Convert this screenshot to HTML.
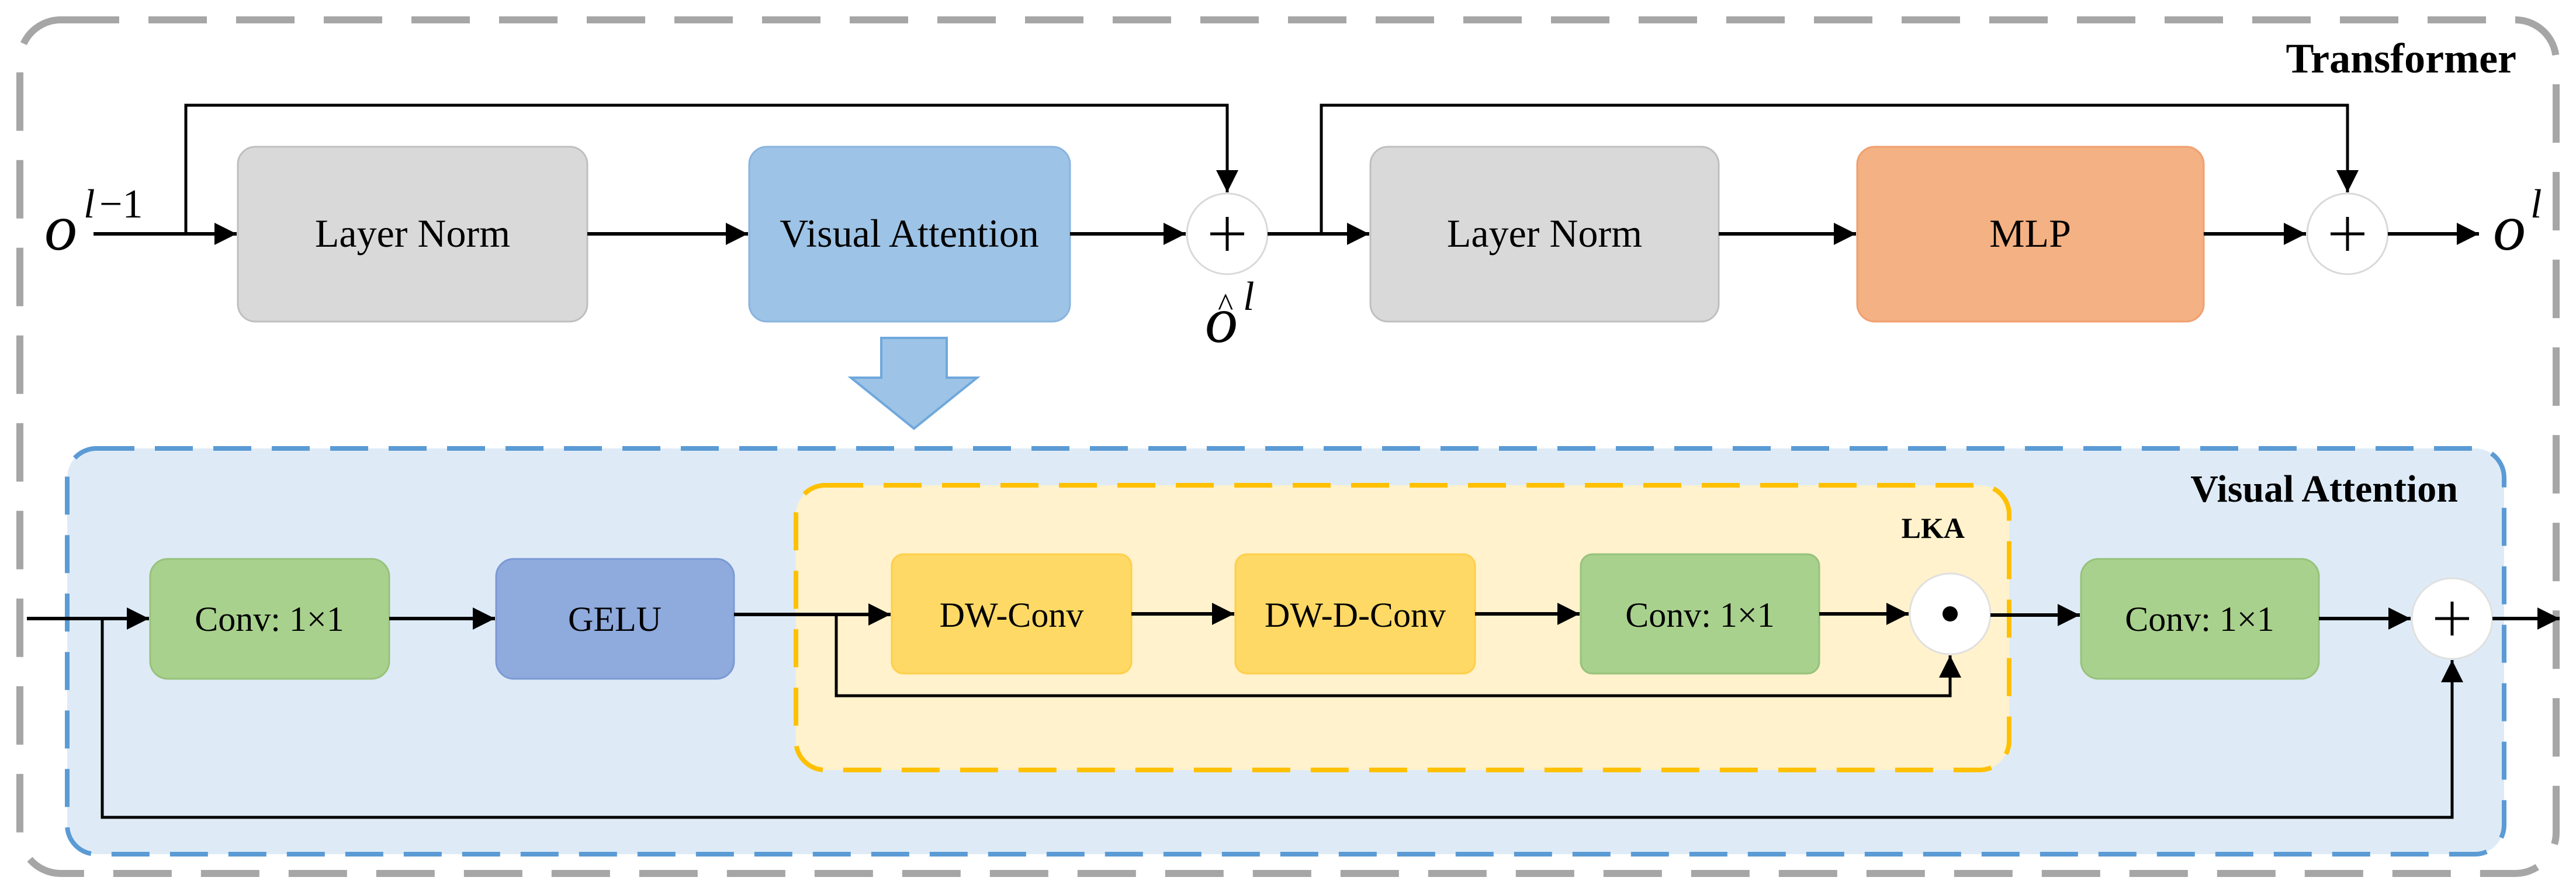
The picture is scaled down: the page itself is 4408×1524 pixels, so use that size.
<!DOCTYPE html>
<html><head><meta charset="utf-8"><style>
html,body{margin:0;padding:0;background:#fff;}
svg{display:block;}
text{font-family:"Liberation Serif",serif;}
</style></head><body>
<svg width="4408" height="1524" viewBox="0 0 4408 1524" xmlns="http://www.w3.org/2000/svg">
<defs>
<marker id="a" markerUnits="userSpaceOnUse" markerWidth="40" markerHeight="40" refX="38" refY="19" orient="auto">
<path d="M0,0 L38,19 L0,38 Z" fill="#000"/>
</marker>
</defs>
<rect x="34" y="34" width="4340" height="1460" rx="70" fill="#fff" stroke="#a6a6a6" stroke-width="12" stroke-dasharray="100,50"/>
<text x="4306" y="124" font-size="72" font-weight="bold" text-anchor="end">Transformer</text>

<rect x="407" y="251" width="598" height="299" rx="30" fill="#d9d9d9" stroke="#bfbfbf" stroke-width="3"/>
<text x="706" y="422" font-size="68" text-anchor="middle">Layer Norm</text>
<rect x="1282" y="251" width="549" height="299" rx="30" fill="#9dc3e6" stroke="#8ab4df" stroke-width="3"/>
<text x="1556" y="422" font-size="68" text-anchor="middle">Visual Attention</text>
<rect x="2345" y="251" width="596" height="299" rx="30" fill="#d9d9d9" stroke="#bfbfbf" stroke-width="3"/>
<text x="2643" y="422" font-size="68" text-anchor="middle">Layer Norm</text>
<rect x="3178" y="251" width="593" height="299" rx="30" fill="#f4b183" stroke="#f0a070" stroke-width="3"/>
<text x="3474" y="422" font-size="68" text-anchor="middle">MLP</text>

<circle cx="2100" cy="400" r="69" fill="#fff" stroke="#d9d9d9" stroke-width="3"/>
<path d="M2071,400 H2129 M2100,371 V429" stroke="#000" stroke-width="5"/>
<circle cx="4017" cy="400" r="69" fill="#fff" stroke="#d9d9d9" stroke-width="3"/>
<path d="M3988,400 H4046 M4017,371 V429" stroke="#000" stroke-width="5"/>

<g stroke="#000" stroke-width="6" fill="none">
<path d="M160,400 H405" marker-end="url(#a)"/>
<path d="M318,400 V180 H2100 V329" stroke-width="5" marker-end="url(#a)"/>
<path d="M1005,400 H1280" marker-end="url(#a)"/>
<path d="M1831,400 H2029" marker-end="url(#a)"/>
<path d="M2169,400 H2343" marker-end="url(#a)"/>
<path d="M2261,400 V180 H4017 V329" stroke-width="5" marker-end="url(#a)"/>
<path d="M2941,400 H3176" marker-end="url(#a)"/>
<path d="M3771,400 H3946" marker-end="url(#a)"/>
<path d="M4086,400 H4242" marker-end="url(#a)"/>
</g>

<text x="76" y="427" font-size="112" font-style="italic">o</text>
<text x="143" y="372" font-size="70" font-style="italic">l</text>
<text x="170" y="372" font-size="70">−1</text>
<text x="4266" y="427" font-size="112" font-style="italic">o</text>
<text x="4330" y="372" font-size="70" font-style="italic">l</text>
<text x="2062" y="585" font-size="112" font-style="italic">o</text>
<text x="2084" y="540" font-size="56">^</text>
<text x="2127" y="530" font-size="70" font-style="italic">l</text>

<path d="M1508,578 H1620 V646 H1672 L1564,733 L1456,646 H1508 Z" fill="#9dc3e6" stroke="#6fa8dc" stroke-width="4"/>

<rect x="115" y="767" width="4170" height="694" rx="50" fill="#deebf7" stroke="#5b9bd5" stroke-width="8" stroke-dasharray="65,35"/>
<text x="4206" y="858" font-size="66" font-weight="bold" text-anchor="end">Visual Attention</text>

<rect x="1362" y="830" width="2076" height="487" rx="50" fill="#fff2cc" stroke="#ffc000" stroke-width="8" stroke-dasharray="65,35"/>
<text x="3362" y="920" font-size="50" font-weight="bold" text-anchor="end">LKA</text>

<rect x="257" y="956" width="409" height="205" rx="30" fill="#a9d18e" stroke="#97c27b" stroke-width="3"/>
<text x="461" y="1079" font-size="60" text-anchor="middle">Conv: 1×1</text>
<rect x="849" y="956" width="407" height="205" rx="30" fill="#8faadc" stroke="#7b9ad4" stroke-width="3"/>
<text x="1052" y="1079" font-size="60" text-anchor="middle">GELU</text>
<rect x="1526" y="948" width="410" height="204" rx="20" fill="#ffd966" stroke="#ffcf4a" stroke-width="3"/>
<text x="1731" y="1072" font-size="60" text-anchor="middle">DW-Conv</text>
<rect x="2114" y="948" width="410" height="204" rx="20" fill="#ffd966" stroke="#ffcf4a" stroke-width="3"/>
<text x="2319" y="1072" font-size="60" text-anchor="middle">DW-D-Conv</text>
<rect x="2705" y="948" width="408" height="204" rx="20" fill="#a9d18e" stroke="#97c27b" stroke-width="3"/>
<text x="2909" y="1072" font-size="60" text-anchor="middle">Conv: 1×1</text>
<rect x="3561" y="956" width="407" height="205" rx="30" fill="#a9d18e" stroke="#97c27b" stroke-width="3"/>
<text x="3764" y="1079" font-size="60" text-anchor="middle">Conv: 1×1</text>

<circle cx="3337" cy="1050" r="69" fill="#fff" stroke="#e0e0e0" stroke-width="3"/>
<circle cx="3337" cy="1050" r="13" fill="#000"/>
<circle cx="4196" cy="1058" r="69" fill="#fff" stroke="#e0e0e0" stroke-width="3"/>
<path d="M4167,1058 H4225 M4196,1029 V1087" stroke="#000" stroke-width="5"/>

<g stroke="#000" stroke-width="6" fill="none">
<path d="M46,1058 H255" marker-end="url(#a)"/>
<path d="M175,1058 V1398 H4196 V1129" stroke-width="5" marker-end="url(#a)"/>
<path d="M666,1058 H847" marker-end="url(#a)"/>
<path d="M1256,1051 H1524" marker-end="url(#a)"/>
<path d="M1431,1051 V1190 H3337 V1121" stroke-width="5" marker-end="url(#a)"/>
<path d="M1936,1050 H2112" marker-end="url(#a)"/>
<path d="M2524,1050 H2703" marker-end="url(#a)"/>
<path d="M3113,1050 H3266" marker-end="url(#a)"/>
<path d="M3406,1052 H3559" marker-end="url(#a)"/>
<path d="M3968,1058 H4125" marker-end="url(#a)"/>
<path d="M4265,1058 H4380" marker-end="url(#a)"/>
</g>
</svg>
</body></html>
